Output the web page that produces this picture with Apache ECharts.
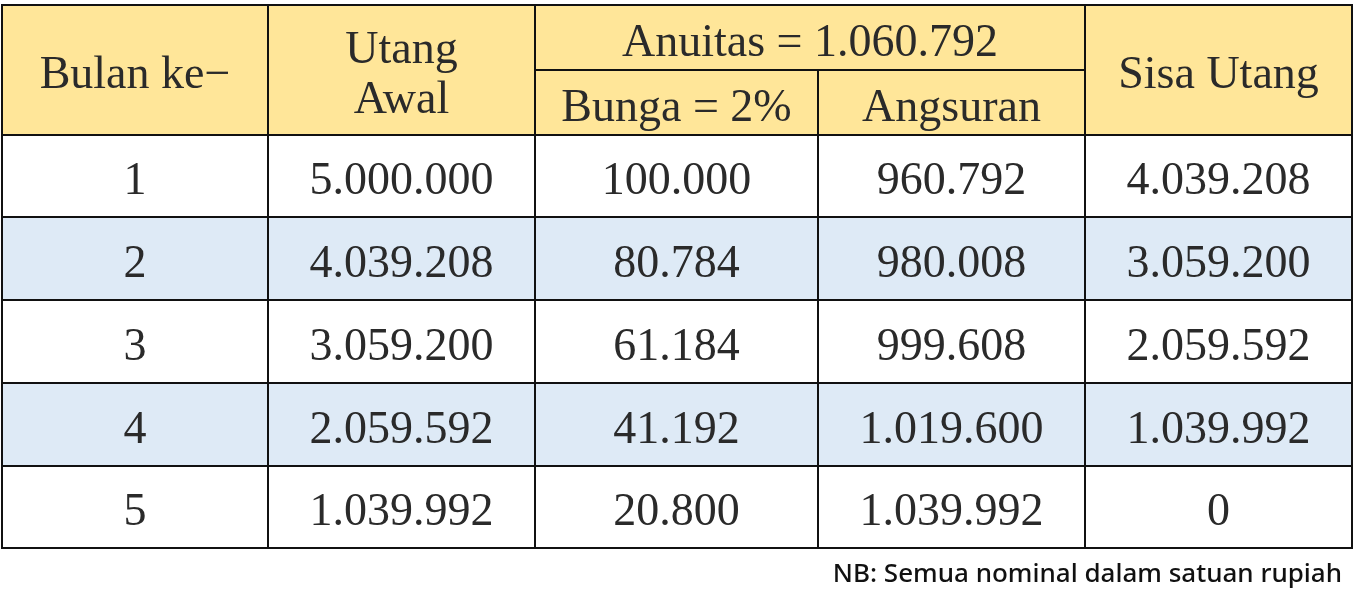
<!DOCTYPE html><html><head><meta charset="utf-8">
<script src="https://cdn.jsdelivr.net/npm/echarts@6/dist/echarts.min.js"></script>
<style>html,body{margin:0;padding:0;background:#fff}#c{width:1372px;height:612px}</style></head><body><div id="c"></div>
<script>
const bulan=['1','2','3','4','5'];
const utangAwal=['5.000.000','4.039.208','3.059.200','2.059.592','1.039.992'];
const bunga=['100.000','80.784','61.184','41.192','20.800'];
const angsuran=['960.792','980.008','999.608','1.019.600','1.039.992'];
const sisa=['4.039.208','3.059.200','2.059.592','1.039.992','0'];
const headers=[
 {t:'Bulan ke−',c0:0,c1:1,r0:0,r1:2},
 {t:'Utang\nAwal',c0:1,c1:2,r0:0,r1:2},
 {t:'Anuitas = 1.060.792',c0:2,c1:4,r0:0,r1:1},
 {t:'Bunga = 2%',c0:2,c1:3,r0:1,r1:2},
 {t:'Angsuran',c0:3,c1:4,r0:1,r1:2},
 {t:'Sisa Utang',c0:4,c1:5,r0:0,r1:2}];
const colEdges=[2,268,535,818,1085,1352];
const rowEdges=[5,70,135,217,300,383,466,548];
const cells=[];
headers.forEach(h=>cells.push([colEdges[h.c0],colEdges[h.c1],rowEdges[h.r0],rowEdges[h.r1],h.t,'h']));
const cols=[bulan,utangAwal,bunga,angsuran,sisa];
for(let r=0;r<5;r++)for(let c=0;c<5;c++)
 cells.push([colEdges[c],colEdges[c+1],rowEdges[r+2],rowEdges[r+3],cols[c][r],r%2?'b':'w']);
const fills={h:'#FFE699',b:'#DEEAF6',w:'#FFFFFF'};
const ch=echarts.init(document.getElementById('c'));
ch.setOption({animation:false,
 grid:{left:0,right:0,top:0,bottom:0},
 xAxis:{type:'value',min:0,max:1372,show:false},
 yAxis:{type:'value',min:0,max:612,inverse:true,show:false},
 series:[{type:'custom',data:cells,renderItem:(p,api)=>{
   const a=api.coord([api.value(0),api.value(2)]),b=api.coord([api.value(1),api.value(3)]);
   const d=cells[p.dataIndex];
   return {type:'group',children:[
    {type:'rect',shape:{x:a[0],y:a[1],width:b[0]-a[0],height:b[1]-a[1]},style:{fill:fills[d[5]],stroke:'#111',lineWidth:2}},
    {type:'text',x:(a[0]+b[0])/2,y:(a[1]+b[1])/2+6,style:{text:d[4],align:'center',verticalAlign:'middle',font:'46px "Liberation Serif"',fill:'#2a2a2a',lineHeight:50}}]};
 }}],
 graphic:[{type:'text',right:30,top:562,style:{text:'NB: Semua nominal dalam satuan rupiah',font:'500 26px "Noto Sans"',fill:'#111'}}]
});
</script></body></html>
